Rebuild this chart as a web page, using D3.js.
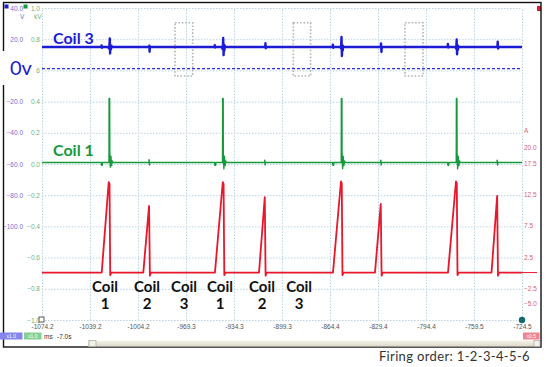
<!DOCTYPE html>
<html>
<head>
<meta charset="utf-8">
<script src="https://cdn.jsdelivr.net/npm/d3@7"></script>
<style>
  body { margin: 0; background: #fff; }
  svg { display: block; }
</style>
</head>
<body>
<div id="scope"></div>
<script>
// ######### DATA ###########
// time axis (ms)
var timeTicks = [-1074.2, -1039.2, -1004.2, -969.3, -934.3, -899.3, -864.4, -829.4, -794.4, -759.5, -724.5];
// left axes (the 0 V label sits under the "0v" box)
var voltTicks = [40, 20, -20, -40, -60, -80, -100];
var kvTicks = [1.0, 0.8, 0.6, 0.4, 0.2, 0.0, -0.2, -0.4, -0.6, -0.8, -1.0];
// right axis (A)
var ampTicks = [20, 17.5, 12.5, 7.5, 2.5, -2.5, -5.0];

// Coil 3 primary voltage [ms, V]
var coil3Volts = [
    [-1074.2, 15], [-1030.9, 15], [-1030.8, 16], [-1030.5, 14.5], [-1030.3, 15],
    [-1025.8, 15], [-1025.6, 14.2], [-1025.1, 15.6], [-1024.8, 20.5], [-1024.6, 10.8], [-1024.3, 16.0], [-1024.0, 13.5], [-1023.6, 15.8], [-1023.2, 15],
    [-996.2, 15], [-996.0, 15.9], [-995.8, 12.0], [-995.6, 15],
    [-948.4, 15], [-948.3, 16.2], [-948.0, 14.6], [-947.8, 15],
    [-943.0, 15], [-942.7, 13.8], [-942.4, 16], [-942.2, 20.8], [-941.9, 9.8], [-941.6, 16.5], [-941.3, 12.8], [-941.0, 15.8], [-940.6, 15],
    [-911.6, 15], [-911.4, 17.4], [-911.2, 14.2], [-911.0, 15],
    [-862.4, 15], [-862.3, 16.5], [-862.0, 14.5], [-861.8, 15],
    [-856.6, 15], [-856.3, 14], [-856.0, 21.5], [-855.7, 9.2], [-855.4, 16.2], [-855.1, 12.9], [-854.8, 15.6], [-854.4, 15],
    [-827.4, 15], [-827.2, 17.3], [-826.9, 11.8], [-826.6, 15],
    [-778.6, 15], [-778.5, 17.0], [-778.2, 14.6], [-778.0, 15],
    [-772.9, 15], [-772.6, 14.0], [-772.3, 16], [-772.1, 19.8], [-771.8, 10.3], [-771.5, 16.2], [-771.2, 13.2], [-770.9, 15.6], [-770.5, 15],
    [-742.4, 15], [-742.2, 18.4], [-741.9, 14.0], [-741.7, 15],
    [-724.5, 15]
];

// Coil 1 secondary voltage [ms, kV]
var coil1Kv = [
    [-1074.2, 0.01], [-1031.0, 0.01], [-1030.9, -0.008], [-1030.3, -0.008], [-1030.2, 0.01],
    [-1025.4, 0.01], [-1025.3, 0.42], [-1024.9, 0.42], [-1024.8, 0.06], [-1024.4, -0.02], [-1024.0, 0.05], [-1023.5, -0.01], [-1023.0, 0.02], [-1022.6, 0.01],
    [-996.3, 0.01], [-996.2, 0.028], [-995.9, -0.006], [-995.7, 0.01],
    [-948.4, 0.01], [-948.3, -0.008], [-947.7, -0.008], [-947.6, 0.01],
    [-942.7, 0.01], [-942.6, 0.42], [-942.2, 0.42], [-942.1, 0.06], [-941.7, -0.03], [-941.3, 0.05], [-940.8, -0.01], [-940.3, 0.02], [-939.9, 0.01],
    [-912.0, 0.01], [-911.9, 0.025], [-911.6, -0.006], [-911.4, 0.01],
    [-862.4, 0.01], [-862.3, -0.008], [-861.7, -0.008], [-861.6, 0.01],
    [-856.2, 0.01], [-856.1, 0.42], [-855.7, 0.42], [-855.6, 0.06], [-855.2, -0.03], [-854.8, 0.05], [-854.3, -0.01], [-853.8, 0.02], [-853.4, 0.01],
    [-827.5, 0.01], [-827.4, 0.025], [-827.1, -0.006], [-826.9, 0.01],
    [-778.6, 0.01], [-778.5, -0.008], [-777.9, -0.008], [-777.8, 0.01],
    [-772.4, 0.01], [-772.3, 0.42], [-771.9, 0.42], [-771.8, 0.06], [-771.4, -0.03], [-771.0, 0.05], [-770.5, -0.01], [-770.0, 0.02], [-769.6, 0.01],
    [-742.7, 0.01], [-742.6, 0.025], [-742.3, -0.006], [-742.1, 0.01],
    [-724.5, 0.01]
];

// primary current [ms, A]
var coilAmps = [
    [-1074.2, 0], [-1030.7, 0], [-1025.6, 14.5], [-1025.0, 14.2], [-1024.5, -0.4], [-1023.8, 0],
    [-1000.4, 0], [-996.2, 10.7], [-995.6, -0.5], [-994.8, 0],
    [-948.2, 0], [-942.5, 14.5], [-941.9, 14.2], [-941.4, -0.4], [-940.6, 0],
    [-916.1, 0], [-911.9, 12.1], [-911.3, -0.5], [-910.5, 0],
    [-862.2, 0], [-856.4, 14.6], [-855.8, 14.3], [-855.3, -0.4], [-854.5, 0],
    [-831.6, 0], [-827.4, 11.0], [-826.8, -0.5], [-826.0, 0],
    [-778.4, 0], [-772.6, 14.6], [-772.0, 14.3], [-771.5, -0.4], [-770.7, 0],
    [-746.7, 0], [-742.6, 12.3], [-742.0, -0.5], [-741.2, 0],
    [-724.5, 0]
];

// missing coil 3 firings (ms start, ms end)
var missingFires = [[-977.3, -964.4], [-891.1, -878.5], [-809.8, -796.6]];
var missingTop = 30.5, missingBottom = -3.6;   // V
var zeroRef = 1.1;                              // V, dashed "0v" line

// coil labels under the current trace
var coilLabelTimes = [-1028.3, -997.7, -970.7, -944.5, -913.9, -886.9];
var coilLabelNums = ["1", "2", "3", "1", "2", "3"];

// ######### CHART ###########
var width = 552, height = 367;
var blue = "#1c1cd6", green = "#14993c", red = "#e8172b";

var x = d3.scaleLinear().domain([-1074.2, -724.5]).range([42, 522]);
var yV = d3.scaleLinear().domain([-160, 40]).range([320, 8]);
var yKV = d3.scaleLinear().domain([-1, 1]).range([320, 8]);
var yA = d3.scaleLinear().domain([-7.6, 42.4]).range([320, 8]);

var svg = d3.select("#scope").append("svg")
    .attr("width", width)
    .attr("height", height)
    .style("font-family", "'Liberation Sans', Arial, sans-serif");

svg.append("rect").attr("width", width).attr("height", height).attr("fill", "#fff");

// grid + time labels
var xAxis = svg.append("g")
    .attr("transform", "translate(0,320)")
    .call(d3.axisBottom(x).tickValues(timeTicks).tickSize(-312).tickPadding(4)
        .tickFormat(function(d) { return d.toFixed(1); }));
xAxis.select(".domain").remove();
xAxis.selectAll("line").attr("stroke", "#b9d3e6").attr("stroke-dasharray", "1.5,1.5");
xAxis.selectAll("text").attr("fill", "#555").style("font-size", "6.5px");

var kvAxis = svg.append("g")
    .attr("transform", "translate(42,0)")
    .call(d3.axisLeft(yKV).tickValues(kvTicks).tickSize(-480).tickPadding(2)
        .tickFormat(d3.format(".1f")));
kvAxis.select(".domain").remove();
kvAxis.selectAll("line").attr("stroke", "#b9d3e6").attr("stroke-dasharray", "1.5,1.5");
kvAxis.selectAll("text").attr("fill", "#6cb47a").style("font-size", "6.5px");

var vAxis = svg.append("g")
    .attr("transform", "translate(23,0)")
    .call(d3.axisLeft(yV).tickValues(voltTicks).tickSize(0).tickPadding(0)
        .tickFormat(d3.format(".1f")));
vAxis.select(".domain").remove();
vAxis.selectAll("text").attr("fill", "#7070d0").style("font-size", "6.5px");

var aAxis = svg.append("g")
    .attr("transform", "translate(523,0)")
    .call(d3.axisRight(yA).tickValues(ampTicks).tickSize(0).tickPadding(1)
        .tickFormat(d3.format(".1f")));
aAxis.select(".domain").remove();
aAxis.selectAll("text").attr("fill", "#e0606e").style("font-size", "6.5px");
svg.append("text").attr("x", 524).attr("y", yA(22.3)).attr("fill", "#e0606e")
    .style("font-size", "6.5px").text("A");

// missing-firing markers
svg.append("g").selectAll("rect").data(missingFires).enter().append("rect")
    .attr("x", function(d) { return x(d[0]); })
    .attr("y", yV(missingTop))
    .attr("width", function(d) { return x(d[1]) - x(d[0]); })
    .attr("height", yV(missingBottom) - yV(missingTop))
    .attr("fill", "none")
    .attr("stroke", "#b4b4b4")
    .attr("stroke-width", 1.6)
    .attr("stroke-dasharray", "1.6,1.8");

// dashed reference line
svg.append("line")
    .attr("x1", x.range()[0]).attr("x2", x.range()[1])
    .attr("y1", yV(zeroRef)).attr("y2", yV(zeroRef))
    .attr("stroke", "#2a2aee").attr("stroke-width", 1.2).attr("stroke-dasharray", "3,2");

// traces
function trace(data, yScale, color, w) {
    svg.append("path")
        .datum(data)
        .attr("fill", "none")
        .attr("stroke", color)
        .attr("stroke-width", w)
        .attr("stroke-linejoin", "round")
        .attr("d", d3.line().x(function(d) { return x(d[0]); }).y(function(d) { return yScale(d[1]); }));
}
trace(coilAmps, yA, red, 1.8);
svg.append("line").attr("x1", 522).attr("x2", 537).attr("y1", yA(0)).attr("y2", yA(0))
    .attr("stroke", red).attr("stroke-width", 1);
trace(coil1Kv, yKV, green, 1.4);
trace(coil3Volts, yV, blue, 2.4);

// trace names
svg.append("text").attr("x", 53).attr("y", 43.5).attr("fill", blue)
    .style("font-family", "Lato, sans-serif").style("font-weight", "bold").style("font-size", "16px")
    .text("Coil 3");
svg.append("text").attr("x", 53).attr("y", 156).attr("fill", green)
    .style("font-family", "Lato, sans-serif").style("font-weight", "bold").style("font-size", "16px")
    .text("Coil 1");

// coil order labels
var labels = svg.append("g").selectAll("g").data(coilLabelTimes).enter().append("g")
    .attr("transform", function(d) { return "translate(" + x(d) + ",0)"; })
    .style("font-family", "Lato, sans-serif").style("font-weight", "bold").style("font-size", "15px")
    .attr("text-anchor", "middle").attr("fill", "#111");
labels.append("text").attr("y", 291.5).text("Coil");
labels.append("text").attr("y", 309).text(function(d, i) { return coilLabelNums[i]; });

// legend squares top
svg.append("rect").attr("x", 4.5).attr("y", 4.5).attr("width", 4).attr("height", 4).attr("fill", blue);
svg.append("rect").attr("x", 23.5).attr("y", 4.5).attr("width", 4).attr("height", 4).attr("fill", green);
svg.append("text").attr("x", 20).attr("y", 19).attr("fill", "#7070d0").style("font-size", "6.5px").text("V");
svg.append("text").attr("x", 34).attr("y", 19).attr("fill", "#6cb47a").style("font-size", "6.5px").text("kV");
svg.append("rect").attr("x", 537).attr("y", 6).attr("width", 4).attr("height", 5).attr("fill", red);

// frame
svg.append("rect").attr("x", 3.5).attr("y", 2.5).attr("width", 537.5).attr("height", 344.5)
    .attr("fill", "none").attr("stroke", "#111").attr("stroke-width", 1.4);

// "0v" box
svg.append("rect").attr("x", 0).attr("y", 51).attr("width", 36).attr("height", 34).attr("fill", "#fff");
svg.append("text").attr("x", 10).attr("y", 74.5).attr("fill", blue)
    .style("font-family", "Lato, sans-serif").style("font-size", "20px").text("0v");

// cursors at ends of the time axis
svg.append("rect").attr("x", 39).attr("y", 317).attr("width", 5).attr("height", 5)
    .attr("fill", "#fff").attr("stroke", "#333").attr("stroke-width", 0.8);
svg.append("circle").attr("cx", 522).attr("cy", 320).attr("r", 3.2).attr("fill", "#116b6b");

// bottom status bar
function tag(x0, w, fill, txt) {
    svg.append("rect").attr("x", x0).attr("y", 332.5).attr("width", w).attr("height", 7).attr("fill", fill);
    svg.append("text").attr("x", x0 + w / 2).attr("y", 338.3).attr("text-anchor", "middle")
        .attr("fill", "#fff").style("font-size", "5px").text(txt);
}
tag(0, 22.5, "#8585f0", "x1.0");
tag(24, 17.5, "#84d093", "x1.0");
tag(523, 16.5, "#f08592", "x0.5");
svg.append("text").attr("x", 44).attr("y", 339).attr("fill", "#333").style("font-size", "6.5px").text("ms");
svg.append("text").attr("x", 57).attr("y", 339).attr("fill", "#333").style("font-size", "6.5px").text("-7.0s");

var grad = svg.append("defs").append("linearGradient").attr("id", "bar")
    .attr("x1", "0%").attr("y1", "0%").attr("x2", "0%").attr("y2", "100%");
grad.append("stop").attr("offset", "0%").attr("stop-color", "#f6f3ea");
grad.append("stop").attr("offset", "100%").attr("stop-color", "#dcd7c8");
svg.append("rect").attr("x", 88).attr("y", 340.5).attr("width", 452).attr("height", 6).attr("fill", "url(#bar)");
svg.append("rect").attr("x", 89).attr("y", 340.5).attr("width", 7).attr("height", 6)
    .attr("fill", "#f4f1e8").attr("stroke", "#999").attr("stroke-width", 0.6);
svg.append("rect").attr("x", 534).attr("y", 340.5).attr("width", 6).attr("height", 6)
    .attr("fill", "#f4f1e8").attr("stroke", "#999").attr("stroke-width", 0.6);

// caption
svg.append("text").attr("x", 530).attr("y", 361).attr("text-anchor", "end").attr("fill", "#333")
    .style("font-family", "Lato, sans-serif").style("font-size", "13px").style("letter-spacing", "0.35px")
    .text("Firing order: 1-2-3-4-5-6");
</script>
</body>
</html>
